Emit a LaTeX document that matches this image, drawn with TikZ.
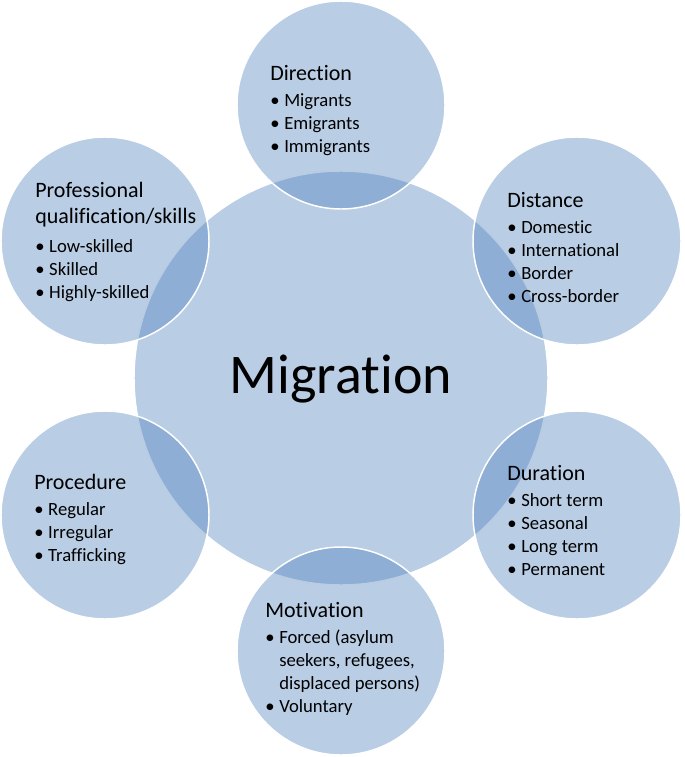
\documentclass[tikz,border=0pt]{standalone}
\usepackage{fontspec}
\setmainfont[Ligatures=NoCommon]{Carlito}
\usetikzlibrary{positioning}
\definecolor{migrationblue}{RGB}{79,129,189}
\newcommand{\itm}{\makebox[10.5pt][l]{\textbullet}}
\newcommand{\hdr}[1]{{\fontsize{16.5}{20}\selectfont #1}}

\begin{document}
\begin{tikzpicture}[
    x=0.75pt, y=-0.75pt,
    bubble/.style={circle, draw=white, line width=1.1pt, fill=migrationblue, fill opacity=0.4, inner sep=0pt},
    listtext/.style={anchor=base west, align=left, inner sep=0pt, font=\fontsize{14}{17.25}\selectfont}
]
\useasboundingbox (0,0) rectangle (685,757);

\node[bubble, minimum size=310.5pt] (mig) at (341,378) {};

\foreach \name/\xpos/\ypos in {dir/341/105, dist/577/241, dur/577/515, mot/341/651, proc/105/515, prof/105/241} {
    \node[bubble, minimum size=156pt] (\name) at (\xpos,\ypos) {};
}

\node[anchor=base, inner sep=0pt, font=\fontsize{42}{50}\selectfont] (migtext) at (341,393) {Migration};

% text blocks sit on the baseline of their last line
\node[listtext] (dirtext) at (270,152) {\hdr{Direction}\\[2.25pt]
    \itm Migrants\\ \itm Emigrants\\ \itm Immigrants};

\node[listtext] (disttext) at (507,302) {\hdr{Distance}\\[2.25pt]
    \itm Domestic\\ \itm International\\ \itm Border\\ \itm Cross-border};

\node[listtext] (durtext) at (507,575) {\hdr{Duration}\\[2.25pt]
    \itm Short term\\ \itm Seasonal\\ \itm Long term\\ \itm Permanent};

\node[listtext] (mottext) at (265,712) {\hdr{Motivation}\\[2.25pt]
    \itm Forced (asylum\\ \hspace*{10.5pt}seekers, refugees,\\ \hspace*{10.5pt}displaced persons)\\ \itm Voluntary};

\node[listtext] (proctext) at (34,561) {\hdr{Procedure}\\[2.25pt]
    \itm Regular\\ \itm Irregular\\ \itm Trafficking};

\node[listtext] (proftext) at (35,298) {\hdr{Professional}\\[2.25pt]
    \hdr{qualification/skills}\\[4pt]
    \itm Low-skilled\\ \itm Skilled\\ \itm Highly-skilled};

\end{tikzpicture}
\end{document}
